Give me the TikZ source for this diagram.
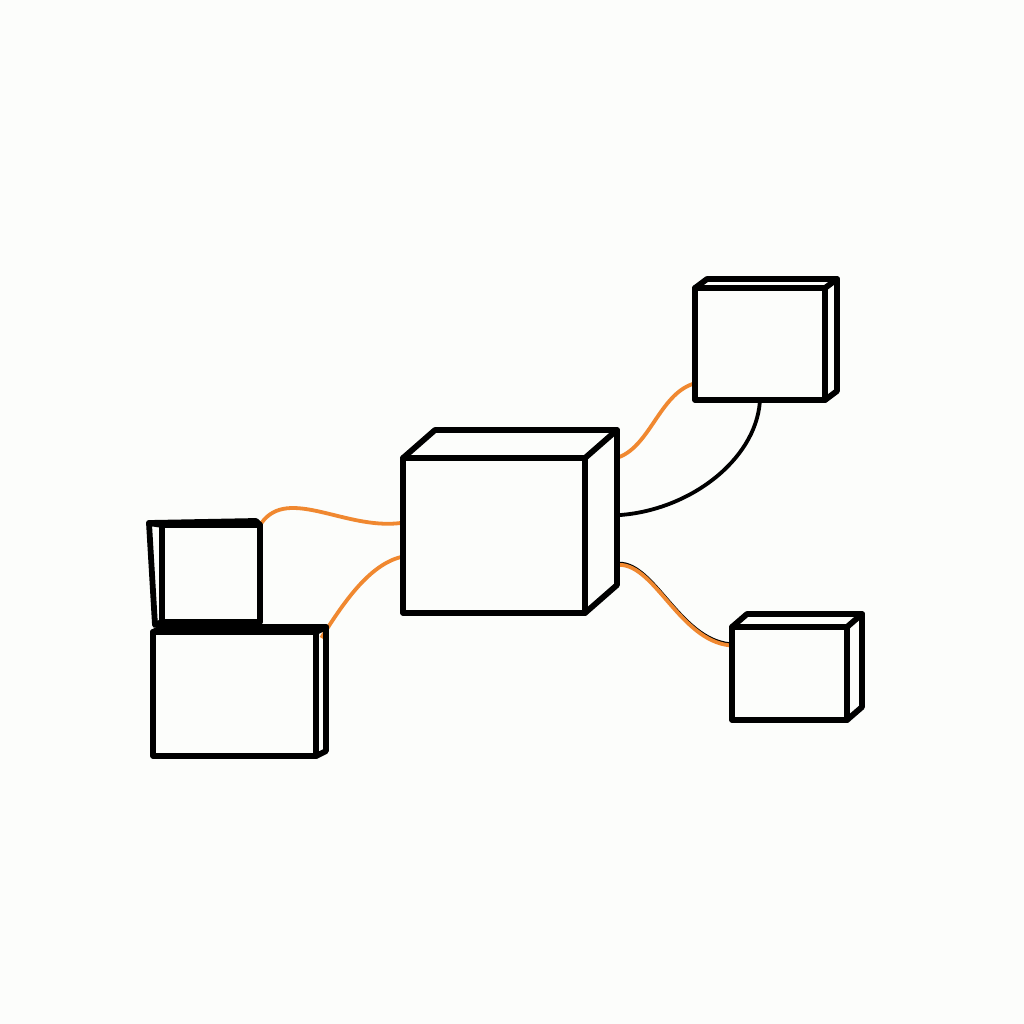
\documentclass[tikz,border=0pt]{standalone}
\usetikzlibrary{calc,backgrounds}
\definecolor{wireorange}{RGB}{240,136,48}
\definecolor{paper}{RGB}{252,253,251}
\tikzstyle{face}=[draw,rectangle,line width=5.8pt,inner sep=0pt,outer sep=0pt,line join=round]
\tikzstyle{edge}=[line width=5.8pt,line join=round,line cap=round]
\tikzstyle{wire}=[line width=3.8pt,draw=wireorange,shorten <=2.5pt,shorten >=2.5pt]
\tikzstyle{bwire}=[wire,draw=black]
% top and right faces behind a front node
\newcommand\depth[3]{%
  \draw[edge] (#1.north west) -- ++(#2,#3) -- ($(#1.north east)+(#2,#3)$) coordinate (#1-bne)
    -- ($(#1.south east)+(#2,#3)$) coordinate (#1-bse) -- (#1.south east);
  \draw[edge] (#1.north east) -- (#1-bne);
}
\begin{document}
\begin{tikzpicture}[x=1pt,y=-1pt]
	\useasboundingbox (0,0) rectangle (1024,1024);
	% front faces
	\node[face,minimum width=182pt,minimum height=155pt] (hub) at (494,535.5) {};
	\node[face,minimum width=130pt,minimum height=112pt] (tr)  at (760,344) {};
	\node[face,minimum width=115pt,minimum height=93pt]  (rb)  at (789.5,673.5) {};
	\node[face,minimum width=163pt,minimum height=124pt] (bg)  at (234.5,694) {};
	\node[face,minimum width=98pt,minimum height=97pt]   (sm)  at (211,573.5) {};
	\depth{hub}{32}{-28}
	\depth{tr}{12}{-9}
	\depth{rb}{15}{-13}
	\depth{bg}{10}{-5}
	% small box shows its left side
	\draw[edge] (sm.north west) -- ++(-13,-2) -- ($(sm.south west)+(-7,3)$) -- (sm.south west);
	\draw[edge] ($(sm.north west)+(-13,-2)$) -- ($(sm.north east)+(-4,-4)$) -- (sm.north east);
	\begin{scope}[on background layer]
	\fill[paper] (0,0) rectangle (1024,1024);
	\draw[wire] (sm.north east) .. controls (288,486) and (345,530) .. (hub.172);
	\draw[wire] ($(bg.north east)+(4,8)$) .. controls (345,600) and (370,565) .. (hub.193);
	\draw[wire] ($(hub-bne)!.18!(hub-bse)$) .. controls (650,445) and (660,395) .. ($(tr.south west)!.15!(tr.north west)$);
	\draw[bwire] (tr.south) .. controls (755,460) and (690,510) .. ($(hub-bne)!.55!(hub-bse)$);
	\draw[bwire,line width=2.6pt,transform canvas={yshift=1.8pt}] ($(hub-bne)!.87!(hub-bse)$) .. controls (655,565) and (680,640) .. ($(rb.north west)!.2!(rb.south west)$);
	\draw[wire] ($(hub-bne)!.87!(hub-bse)$) .. controls (655,565) and (680,640) .. ($(rb.north west)!.2!(rb.south west)$);
	\end{scope}
\end{tikzpicture}
\end{document}
